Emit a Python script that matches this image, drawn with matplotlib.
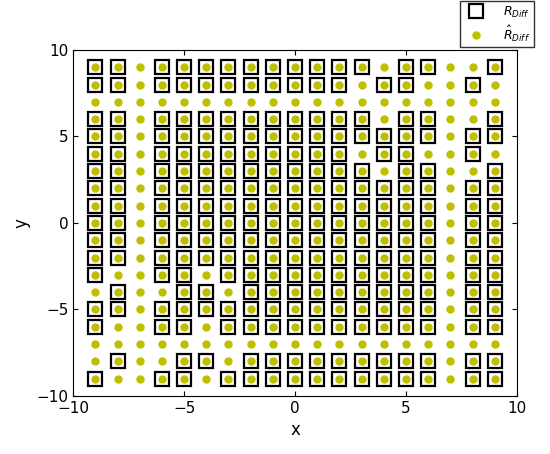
import numpy as np
import matplotlib.pyplot as plt

xs = list(range(-9, 10))
ys = list(range(9, -10, -1))
# one string per row (y = 9 .. -9), one character per column (x = -9 .. 9); 'o' = square present
full = "ooooooo.oo"
rows = [
    "oo.oooooooooo.oo..o",
    "oo.oooooo" + "ooo.oo..o.",
    "." * 19,
    "oo.oooooo" + "oooo.oo..o",
    "oo.oooooo" + full,
    "oo.oooooo" + "ooo.oo..o.",
    "oo.oooooo" + "oooo.oo..o",
    "oo.oooooo" + full,
    "oo.oooooo" + full,
    "oo.oooooo" + full,
    "oo.oooooo" + full,
    "oo.oooooo" + full,
    "o..oo.ooo" + full,
    ".o..oo.oo" + full,
    "oo.oooooo" + full,
    "o..oo.ooo" + full,
    "." * 19,
    ".o..oo.oo" + full,
    "o..oo.ooo" + full,
]

gx, gy = np.meshgrid(xs, ys)
sx = [xs[j] for i, r in enumerate(rows) for j, c in enumerate(r) if c == "o"]
sy = [ys[i] for i, r in enumerate(rows) for j, c in enumerate(r) if c == "o"]

fig = plt.figure(figsize=(5.5, 4.54), dpi=100)
ax = fig.add_axes([0.133, 0.128, 0.807, 0.762])
ax.plot(sx, sy, "s", ms=9.5, mfc="none", mec="black", mew=1.6, ls="none", label=r"$R_{Diff}$")
ax.plot(gx.ravel(), gy.ravel(), "o", ms=5, color="#bfbf00", ls="none", label=r"$\hat{R}_{Diff}$")
ax.set_xlim(-10, 10)
ax.set_ylim(-10, 10)
ax.set_xticks([-10, -5, 0, 5, 10])
ax.set_yticks([-10, -5, 0, 5, 10])
ax.set_xlabel("x", fontsize=12)
ax.set_ylabel("y", fontsize=12)
ax.tick_params(direction="in", labelsize=11, top=True, right=True)
ax.legend(loc="lower right", bbox_to_anchor=(1.045, 1.0), fancybox=False, edgecolor="black",
          fontsize=9, borderaxespad=0.2, handletextpad=1.2, borderpad=0.3, labelspacing=0.3)
fig.savefig("out.png")
